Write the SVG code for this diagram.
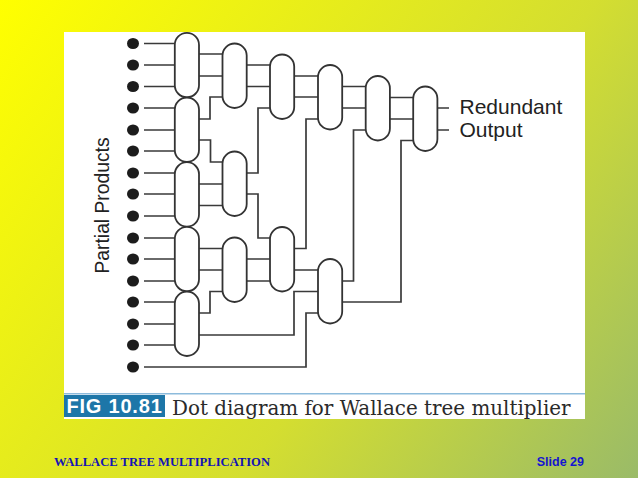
<svg xmlns="http://www.w3.org/2000/svg" width="638" height="478" viewBox="0 0 638 478">
<defs>
<linearGradient id="bg" gradientUnits="userSpaceOnUse" x1="0" y1="0" x2="638" y2="478">
<stop offset="0" stop-color="#ffff00"/><stop offset="0.6" stop-color="#d4de30"/><stop offset="1" stop-color="#9abb68"/>
</linearGradient>
</defs>
<style>
.p{fill:#fff;stroke:#333;stroke-width:1.8}
.w{fill:none;stroke:#3a3a3a;stroke-width:1.7}
.d{fill:#1c1c1c}
.a{font-family:"Liberation Sans",Arial,sans-serif;fill:#222;font-size:21px}
</style>
<rect width="638" height="478" fill="url(#bg)"/>
<rect x="64" y="32" width="521" height="387" fill="#fff"/>
<g id="connectors" class="w">
<path d="M144 43.500H175M144 65H175M144 86.500H175M144 108H175M144 130H175M144 151H175M144 173H175M144 194H175M144 216H175M144 238H175M144 259H175M144 281H175M144 302H175M144 324H175M144 345H175"/>
<path d="M144 367H306V313H318"/>
<path d="M199 54H223M199 76H223M199 119H210V97H223M199 140H210.500V162H223M199 184H223M199 205.500H223M199 248.500H223M199 270H223M199 313H210V291.500H223"/>
<path d="M199 335H294V291.500H318"/>
<path d="M246 65H270M246 86.500H270M246 173H258V108H270M246 194H258V238H270M246 259H270M246 281H270"/>
<path d="M294 76H318M294 97H318M294 248.500H306V119H318M294 270H318"/>
<path d="M342 86.500H366M342 108H366M342 281H353.500V130H366M342 302H401V140.500H413"/>
<path d="M389 97.500H413M389 119H413"/>
<path d="M437 108H449M437 130H449"/>
</g>
<g id="dots" class="d">
<ellipse cx="133" cy="43.500" rx="6" ry="5.500"/><ellipse cx="133" cy="65" rx="6" ry="5.500"/><ellipse cx="133" cy="86.500" rx="6" ry="5.500"/><ellipse cx="133" cy="108" rx="6" ry="5.500"/><ellipse cx="133" cy="130" rx="6" ry="5.500"/><ellipse cx="133" cy="151" rx="6" ry="5.500"/><ellipse cx="133" cy="173" rx="6" ry="5.500"/><ellipse cx="133" cy="194" rx="6" ry="5.500"/><ellipse cx="133" cy="216" rx="6" ry="5.500"/><ellipse cx="133" cy="238" rx="6" ry="5.500"/><ellipse cx="133" cy="259" rx="6" ry="5.500"/><ellipse cx="133" cy="281" rx="6" ry="5.500"/><ellipse cx="133" cy="302" rx="6" ry="5.500"/><ellipse cx="133" cy="324" rx="6" ry="5.500"/><ellipse cx="133" cy="345" rx="6" ry="5.500"/><ellipse cx="133" cy="367" rx="6" ry="5.500"/>
</g>
<g id="n1"><rect class="p" x="174.800" y="32.800" width="24.200" height="64.500" rx="12.100"/></g>
<g id="n2"><rect class="p" x="174.800" y="97.500" width="24.200" height="64.500" rx="12.100"/></g>
<g id="n3"><rect class="p" x="174.800" y="162.200" width="24.200" height="64.500" rx="12.100"/></g>
<g id="n4"><rect class="p" x="174.800" y="226.800" width="24.200" height="64.500" rx="12.100"/></g>
<g id="n5"><rect class="p" x="174.800" y="291.500" width="24.200" height="64.500" rx="12.100"/></g>
<g id="n6"><rect class="p" x="222.500" y="43.500" width="24.200" height="64.500" rx="12.100"/></g>
<g id="n7"><rect class="p" x="222.500" y="151.500" width="24.200" height="64.500" rx="12.100"/></g>
<g id="n8"><rect class="p" x="222.500" y="237.500" width="24.200" height="64.500" rx="12.100"/></g>
<g id="n9"><rect class="p" x="270" y="54.500" width="24.200" height="64.500" rx="12.100"/></g>
<g id="n10"><rect class="p" x="270" y="227" width="24.200" height="64.500" rx="12.100"/></g>
<g id="n11"><rect class="p" x="318" y="65" width="24.200" height="64.500" rx="12.100"/></g>
<g id="n12"><rect class="p" x="318" y="259" width="24.200" height="64.500" rx="12.100"/></g>
<g id="n13"><rect class="p" x="365.700" y="76" width="24.200" height="64.500" rx="12.100"/></g>
<g id="n14"><rect class="p" x="413.200" y="86.500" width="24.200" height="64.500" rx="12.100"/></g>
<text class="a" transform="translate(108.500 273.500) rotate(-90)" style="font-size:19.300px">Partial Products</text>
<text class="a" x="459.500" y="113.500">Redundant</text>
<text class="a" x="459.500" y="137">Output</text>
<rect x="64" y="393" width="521" height="1.500" fill="#8dbbdc"/>
<rect x="64" y="395" width="101" height="22" fill="#1d76a8"/>
<text x="114.500" y="412.500" text-anchor="middle" font-family="'Liberation Sans',Arial,sans-serif" font-weight="700" font-size="20px" letter-spacing="0.800" fill="#fff">FIG 10.81</text>
<text x="172" y="414.500" font-family="'DejaVu Serif',serif" font-size="19.900px" fill="#2a2a2a">Dot diagram for Wallace tree multiplier</text>
<text x="54" y="466" font-family="'Liberation Serif','Times New Roman',serif" font-weight="700" font-size="12.600px" fill="#1414b4">WALLACE TREE MULTIPLICATION</text>
<text x="584" y="465.500" text-anchor="end" font-family="'Liberation Sans',Arial,sans-serif" font-weight="700" font-size="12.500px" fill="#1414d0">Slide 29</text>
</svg>
